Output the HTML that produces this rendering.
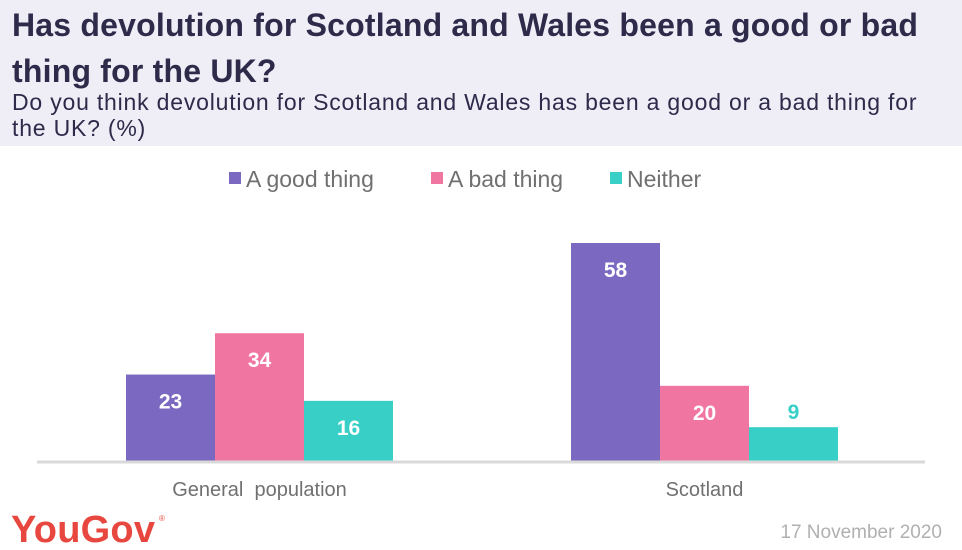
<!DOCTYPE html>
<html><head><meta charset="utf-8"><style>
body{margin:0;width:962px;height:550px;background:#fff;font-family:"Liberation Sans",sans-serif;overflow:hidden;position:relative}
#hdr{position:absolute;left:0;top:0;width:962px;height:146px;background:#efedf6}
#title{position:absolute;left:12px;top:2px;font-size:32px;font-weight:bold;color:#2d2a4a;line-height:46px;width:950px;white-space:nowrap;letter-spacing:0.2px}
#sub{position:absolute;left:12px;top:89px;font-size:23px;color:#2d2a4a;line-height:26px;width:950px;white-space:nowrap;letter-spacing:0.8px}
svg{position:absolute;left:0;top:0}
</style></head><body>
<div id="hdr"></div>
<div id="title">Has devolution for Scotland and Wales been a good or bad<br>thing for the UK?</div>
<div id="sub">Do you think devolution for Scotland and Wales has been a good or a bad thing for<br>the UK? (%)</div>
<svg id="chart" width="962" height="550"></svg>
<script>
const categories=["General  population","Scotland"];
const seriesNames=["A good thing","A bad thing","Neither"];
const goodVals=[23,58];
const badVals=[34,20];
const neitherVals=[16,9];
const colors=["#7b68c0","#f075a0","#38cfc7"];
const svg=document.getElementById('chart');
const NS="http://www.w3.org/2000/svg";
const base=461, pxPer=218/58, barW=89;
const groupCenters=[259.5,704.5];
function y(v){return base-v*pxPer;}
function mk(t,a){const e=document.createElementNS(NS,t);for(const k in a)e.setAttribute(k,a[k]);svg.appendChild(e);return e;}
const series=[goodVals,badVals,neitherVals];
series.forEach((vals,s)=>{vals.forEach((v,i)=>{
 const x=groupCenters[i]-1.5*barW+s*barW;
 const r=mk('rect',{x:x,y:y(v),width:barW,height:base-y(v),fill:colors[s]});
 
 
 const big=(base-y(v))>45;
 const t=mk('text',{x:x+barW/2,y:big?y(v)+34:y(v)-8,'text-anchor':'middle','font-size':21,'font-weight':'bold',fill:big?'#fff':colors[s]});
 t.textContent=v;
 
 
});});
const ax=mk('line',{x1:37,x2:925,y1:462,y2:462,stroke:'#d9d9d9','stroke-width':3});


categories.forEach((c,i)=>{
 const t=mk('text',{x:groupCenters[i],y:496,'text-anchor':'middle','font-size':20,fill:'#707070',style:'white-space:pre'});
 t.textContent=c;
 
 
});
const legX=[229,431,610];
seriesNames.forEach((n,s)=>{
 const r=mk('rect',{x:legX[s],y:172,width:12,height:12,fill:colors[s]});
 
 
 const t=mk('text',{x:legX[s]+17,y:187,'font-size':23,fill:'#707070'});
 t.textContent=n;
 
 
});
const logo=mk('text',{x:11,y:542,'font-size':38,'font-weight':'bold',fill:'#e8473f','letter-spacing':'1','textLength':145});
logo.textContent="YouGov";


const reg=mk('text',{x:159,y:521,'font-size':8,fill:'#e8473f'});
reg.textContent="®";


const d=mk('text',{x:942,y:538,'text-anchor':'end','font-size':19,fill:'#b0b0b0'});
d.textContent="17 November 2020";


</script>
</body></html>
